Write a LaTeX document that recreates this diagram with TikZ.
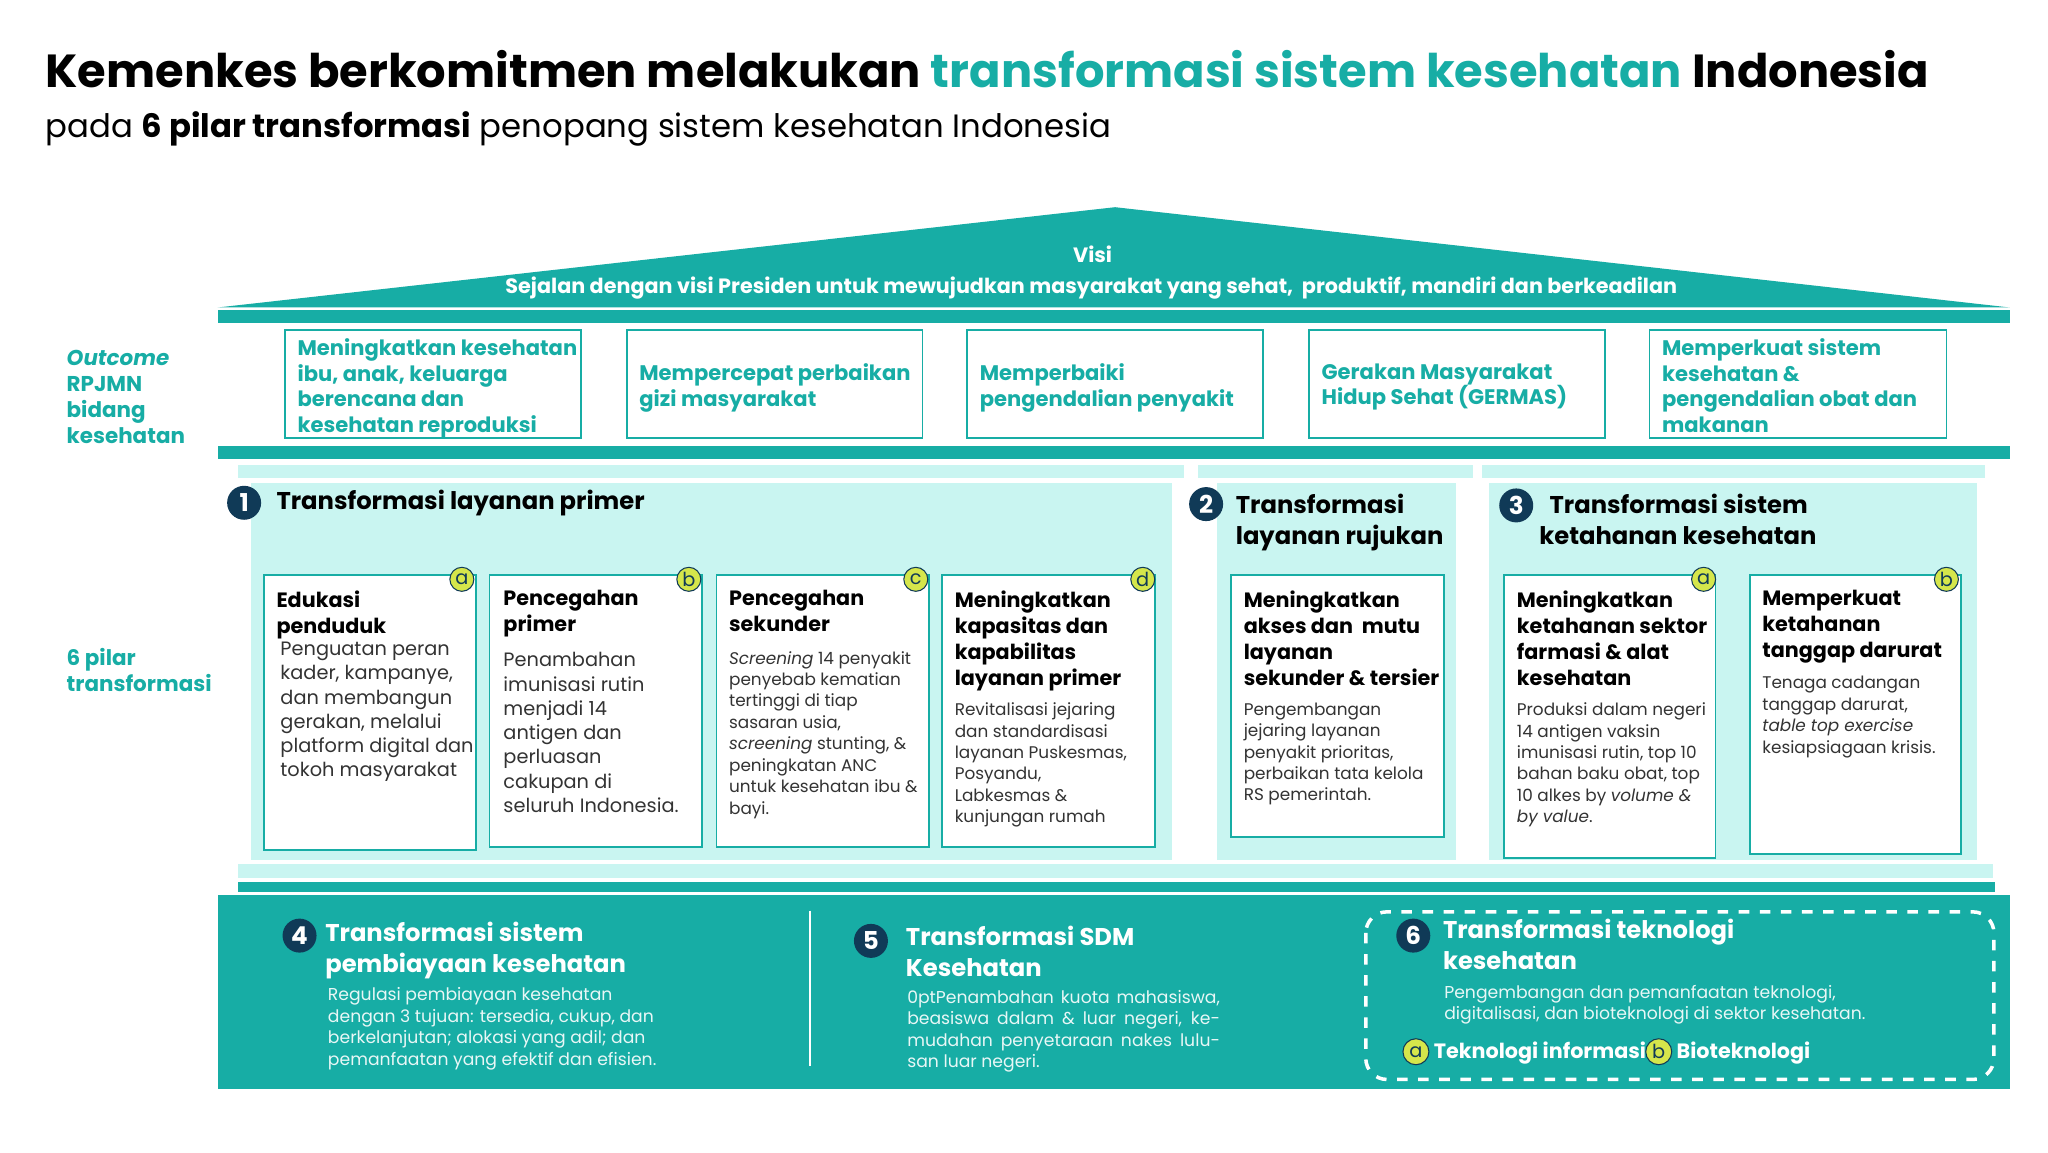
\documentclass[tikz,border=0pt]{standalone}
\usepackage{fontspec}
\setmainfont{Poppins}
\definecolor{teal1}{HTML}{17ADA5}
\definecolor{lcyan}{HTML}{C9F5F1}
\definecolor{navy}{HTML}{103A57}
\definecolor{ylw}{HTML}{D5E64B}
\tikzset{
 card/.style={draw=teal1,fill=white,line width=0.5pt},
 obox/.style={draw=teal1,fill=white,line width=0.5pt},
 num/.style={circle,fill=navy,text=white,font=\fontsize{7}{7}\selectfont\bfseries,inner sep=0pt,minimum size=0.34cm},
 let/.style={circle,fill=ylw,draw=navy,line width=0.3pt,text=navy,font=\fontsize{5.5}{5.5}\selectfont,inner sep=0pt,minimum size=0.24cm},
 ctitle/.style={anchor=north west,align=left,inner sep=0pt,font=\fontsize{5.9}{7.4}\selectfont\bfseries,text=black},
 cbody/.style={anchor=north west,align=left,inner sep=0pt,font=\fontsize{4.8}{6.1}\selectfont,text=black!80},
 otext/.style={anchor=north west,align=left,inner sep=0pt,font=\fontsize{6.0}{7.3}\selectfont\bfseries,text=teal1},
 ptitle/.style={anchor=west,align=left,inner sep=0pt,font=\fontsize{6.9}{8.9}\selectfont\bfseries,text=black},
 btitle/.style={anchor=west,align=left,inner sep=0pt,font=\fontsize{6.9}{8.9}\selectfont\bfseries,text=white},
 bbody/.style={anchor=north west,align=left,inner sep=0pt,font=\fontsize{4.9}{6.1}\selectfont,text=white!90!teal1},
}
\begin{document}
\begin{tikzpicture}[x=0.013196cm,y=-0.013196cm]
\useasboundingbox (0,0) rectangle (1552,873);
\fill[white] (0,0) rectangle (1552,873);
% title
\node[anchor=west,inner sep=0pt,font=\fontsize{13.2}{13.2}\selectfont\bfseries] (title) at (34,52) {Kemenkes berkomitmen melakukan \textcolor{teal1}{transformasi sistem kesehatan} Indonesia};
\node[anchor=west,inner sep=0pt,font=\fontsize{9.2}{9.2}\selectfont] (sub) at (34,98) {pada \textbf{6 pilar transformasi} penopang sistem kesehatan Indonesia};
% roof
\fill[teal1] (165,233) -- (845,157) -- (1523,233) -- cycle;
\node[font=\fontsize{5.9}{5.9}\selectfont\bfseries,text=white] (visi) at (828,193) {Visi};
\node[font=\fontsize{5.9}{5.9}\selectfont\bfseries,text=white] (visit) at (827,218) {Sejalan dengan visi Presiden untuk mewujudkan masyarakat yang sehat,\ \ produktif, mandiri dan berkeadilan};
\fill[teal1] (165,235) rectangle (1523,245);
% left labels
\node[anchor=north west,align=left,inner sep=0pt,text=teal1,font=\fontsize{6.1}{7.4}\selectfont\bfseries] (outc) at (50,265) {\textit{Outcome}\\RPJMN\\bidang\\kesehatan};
\node[anchor=north west,align=left,inner sep=0pt,text=teal1,font=\fontsize{6.1}{7.4}\selectfont\bfseries] (pil) at (50,491) {6 pilar\\transformasi};
% outcome boxes
\draw[obox] (216,250) rectangle (440,332);
\node[otext] (o1) at (225,256) {Meningkatkan kesehatan\\ibu, anak, keluarga\\berencana dan\\kesehatan reproduksi};
\draw[obox] (475,250) rectangle (699,332);
\node[otext] (o2) at (484,275) {Mempercepat perbaikan\\gizi masyarakat};
\draw[obox] (733,250) rectangle (957,332);
\node[otext] (o3) at (742,275) {Memperbaiki\\pengendalian penyakit};
\draw[obox] (992,250) rectangle (1216,332);
\node[otext] (o4) at (1001,275) {Gerakan Masyarakat\\Hidup Sehat (GERMAS)};
\draw[obox] (1250,250) rectangle (1475,332);
\node[otext] (o5) at (1259,256) {Memperkuat sistem\\kesehatan \&\\pengendalian obat dan\\makanan};
\fill[teal1] (165,338) rectangle (1523,348);
% stripes
\fill[lcyan] (180,352) rectangle (897,362);
\fill[lcyan] (908,352) rectangle (1116,362);
\fill[lcyan] (1123,352) rectangle (1504,362);
% panels
\fill[lcyan] (190,366) rectangle (888,652);
\fill[lcyan] (922,366) rectangle (1103,652);
\fill[lcyan] (1128,366) rectangle (1498,652);
\fill[lcyan] (180,655) rectangle (1510,665);
\fill[teal1] (180,668) rectangle (1512,676);
% panel titles
\node[num] (n1) at (185,381) {1};
\node[ptitle] (p1) at (209,381) {Transformasi layanan primer};
\node[num] (n2) at (914,382) {2};
\node[ptitle,anchor=north west] (p2) at (936,374) {Transformasi\\layanan rujukan};
\node[num] (n3) at (1149,383) {3};
\node[ptitle,anchor=north west] (p3) at (1166,374) {\ \ Transformasi sistem\\ketahanan kesehatan};
% cards
\draw[card] (200,436) rectangle (361,644);
\node[let] (la) at (350,439) {a};
\node[ctitle] (c1t) at (209,447) {Edukasi\\penduduk};
\node[cbody,font=\fontsize{5.5}{6.9}\selectfont] (c1b) at (212,486) {Penguatan peran\\kader, kampanye,\\dan membangun\\gerakan, melalui\\platform digital dan\\tokoh masyarakat};
\draw[card] (371,436) rectangle (532,642);
\node[let] (lb) at (522,439) {b};
\node[ctitle] (c2t) at (381,447) {Pencegahan\\primer};
\node[cbody,font=\fontsize{5.5}{6.9}\selectfont] (c2b) at (381,494) {Penambahan\\imunisasi rutin\\menjadi 14\\antigen dan\\perluasan\\cakupan di\\seluruh Indonesia.};
\draw[card] (543,436) rectangle (704,642);
\node[let] (lc) at (694,439) {c};
\node[ctitle] (c3t) at (552,447) {Pencegahan\\sekunder};
\node[cbody] (c3b) at (552,493) {\textit{Screening} 14 penyakit\\penyebab kematian\\tertinggi di tiap\\sasaran usia,\\\textit{screening} stunting, \&\\peningkatan ANC\\untuk kesehatan ibu \&\\bayi.};
\draw[card] (714,436) rectangle (875,642);
\node[let] (ld) at (866,439) {d};
\node[ctitle] (c4t) at (723,447) {Meningkatkan\\kapasitas dan\\kapabilitas\\layanan primer};
\node[cbody] (c4b) at (723,532) {Revitalisasi jejaring\\dan standardisasi\\layanan Puskesmas,\\Posyandu,\\Labkesmas \&\\kunjungan rumah};
\draw[card] (933,436) rectangle (1094,634);
\node[ctitle] (c5t) at (942,447) {Meningkatkan\\akses dan\ \ mutu\\layanan\\sekunder \& tersier};
\node[cbody] (c5b) at (942,532) {Pengembangan\\jejaring layanan\\penyakit prioritas,\\perbaikan tata kelola\\RS pemerintah.};
\draw[card] (1140,436) rectangle (1300,650);
\node[let] (le) at (1291,439) {a};
\node[ctitle] (c6t) at (1149,447) {Meningkatkan\\ketahanan sektor\\farmasi \& alat\\kesehatan};
\node[cbody] (c6b) at (1149,532) {Produksi dalam negeri\\14 antigen vaksin\\imunisasi rutin, top 10\\bahan baku obat, top\\10 alkes by \textit{volume \&}\\\textit{by value}.};
\draw[card] (1326,436) rectangle (1486,647);
\node[let] (lf) at (1475,439) {b};
\node[ctitle] (c7t) at (1335,447) {Memperkuat\\ketahanan\\tanggap darurat};
\node[cbody] (c7b) at (1335,512) {Tenaga cadangan\\tanggap darurat,\\\textit{table top exercise}\\kesiapsiagaan krisis.};
% bottom
\fill[teal1] (165,678) rectangle (1523,825);
\node[num] (n4) at (227,709) {4};
\node[btitle,anchor=north west] (b4t) at (246,698) {Transformasi sistem\\pembiayaan kesehatan};
\node[bbody] (b4b) at (248,748) {Regulasi pembiayaan kesehatan\\dengan 3 tujuan: tersedia, cukup, dan\\berkelanjutan; alokasi yang adil; dan\\pemanfaatan yang efektif dan efisien.};
\coordinate (dv1) at (614,690);
\coordinate (dv2) at (614,808);
\draw[white,line width=0.5pt] (dv1) -- (dv2);
\node[num] (n5) at (660,713) {5};
\node[btitle,anchor=north west] (b5t) at (686,701) {Transformasi SDM\\Kesehatan};
\node[bbody,text width=237*0.013196cm,align=justify,font=\fontsize{4.9}{6.1}\selectfont\hyphenpenalty=10000\exhyphenpenalty=10000] (b5b) at (687,750) {Penambahan kuota mahasiswa, beasiswa dalam \& luar negeri, kemudahan penyetaraan nakes lulusan luar negeri.};
\draw[white,dashed,line width=1pt,rounded corners=6pt] (1035,691) rectangle (1511,818);
\node[num] (n6) at (1071,709) {6};
\node[btitle,anchor=north west] (b6t) at (1093,696) {Transformasi teknologi\\kesehatan};
\node[bbody] (b6b) at (1094,746) {Pengembangan dan pemanfaatan teknologi,\\digitalisasi, dan bioteknologi di sektor kesehatan.};
\node[let,minimum size=0.26cm] (l6a) at (1073,797) {a};
\node[anchor=west,inner sep=0pt,text=white,font=\fontsize{5.9}{5.9}\selectfont\bfseries] (ti) at (1086,798) {Teknologi informasi};
\node[let,minimum size=0.26cm] (l6b) at (1257,797) {b};
\node[anchor=west,inner sep=0pt,text=white,font=\fontsize{5.9}{5.9}\selectfont\bfseries] (bio) at (1270,798) {Bioteknologi};
\end{tikzpicture}
\end{document}
